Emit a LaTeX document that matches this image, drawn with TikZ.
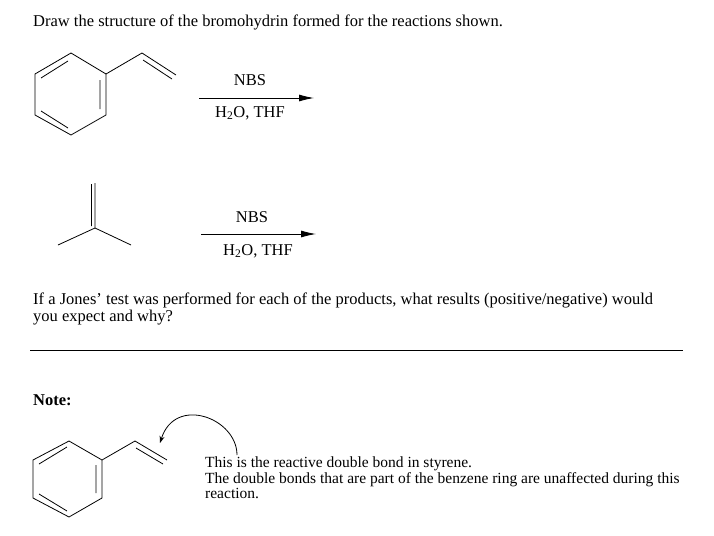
\documentclass[tikz,border=0pt]{standalone}
\usepackage{fontspec}
\setmainfont{Liberation Serif}
\usetikzlibrary{arrows.meta}
\begin{document}
\begin{tikzpicture}[x=1pt,y=-1pt,bond/.style={line width=0.8pt},
  txt/.style={anchor=west,inner sep=0pt,font=\fontsize{16.5}{20}\selectfont},
  rx/.style={-{Latex[length=15pt,width=7pt]},line width=0.9pt}]
\useasboundingbox (0,0) rectangle (714,535);
\node[txt] (t1) at (33,22) {Draw the structure of the bromohydrin formed for the reactions shown.};
% styrene 1
\coordinate (a1) at (71,53);\coordinate (a2) at (106,74);\coordinate (a3) at (106,115);
\coordinate (a4) at (71,135);\coordinate (a5) at (35,115);\coordinate (a6) at (35,74);
\coordinate (v1) at (142,53);\coordinate (v2) at (176,75);
\draw[bond] (a1)--(a2)--(a3)--(a4)--(a5)--(a6)--cycle (a2)--(v1)--(v2);
\draw[bond] (41,78)--(68,61);
\draw[bond] (100,80)--(100,109) (41,111)--(68,128);
\draw[bond] (143,60)--(172,79);
\node[txt,anchor=center] (n1) at (250,80) {NBS};
\node[txt,anchor=center] (h1) at (250,113) {H\textsubscript{2}O, THF};
\coordinate (r1s) at (199,98);\coordinate (r1e) at (314,98);
\draw[rx] (r1s)--(r1e);
% isobutylene
\coordinate (b0) at (95,228);\coordinate (b1) at (95,183);\coordinate (b2) at (58,245);\coordinate (b3) at (131,245);
\draw[bond] (b0)--(b1) (b0)--(b2) (b0)--(b3) (91.5,184)--(91.5,226);
\node[txt,anchor=center] (n2) at (252,217) {NBS};
\node[txt,anchor=center] (h2) at (258,251) {H\textsubscript{2}O, THF};
\coordinate (r2s) at (201,234);\coordinate (r2e) at (316,234);
\draw[rx] (r2s)--(r2e);
\node[txt] (q1) at (33,300) {If a Jones' test was performed for each of the products, what results (positive/negative) would};
\node[txt] (q2) at (33,318) {you expect and why?};
\coordinate (l1) at (30,350);\coordinate (l2) at (683,350);
\draw[line width=0.6pt] (l1)--(l2);
\node[txt,font=\fontsize{16.5}{20}\selectfont\bfseries] (note) at (33,400) {Note:};
% styrene 2
\coordinate (c1) at (69,441);\coordinate (c2) at (102,460);\coordinate (c3) at (102,498);
\coordinate (c4) at (69,517);\coordinate (c5) at (33,498);\coordinate (c6) at (33,460);
\coordinate (w1) at (135,441);\coordinate (w2) at (167,460);
\draw[bond] (c1)--(c2)--(c3)--(c4)--(c5)--(c6)--cycle (c2)--(w1)--(w2);
\draw[bond] (39,464)--(67,447) (96,465)--(96,493) (39,494)--(67,511) (136,448)--(163,464);
\coordinate (arrS) at (237,455);\coordinate (arrE) at (160,443);
\draw[line width=0.8pt,-{Stealth[length=7pt,width=5pt]}] (arrS) .. controls (237,418) and (175,395) .. (arrE);
\node[txt,font=\fontsize{15.5}{15.5}\selectfont,anchor=north west,align=left] (nt) at (205,457) {This is the reactive double bond in styrene.\\The double bonds that are part of the benzene ring are unaffected during this\\reaction.};
\end{tikzpicture}
\end{document}
